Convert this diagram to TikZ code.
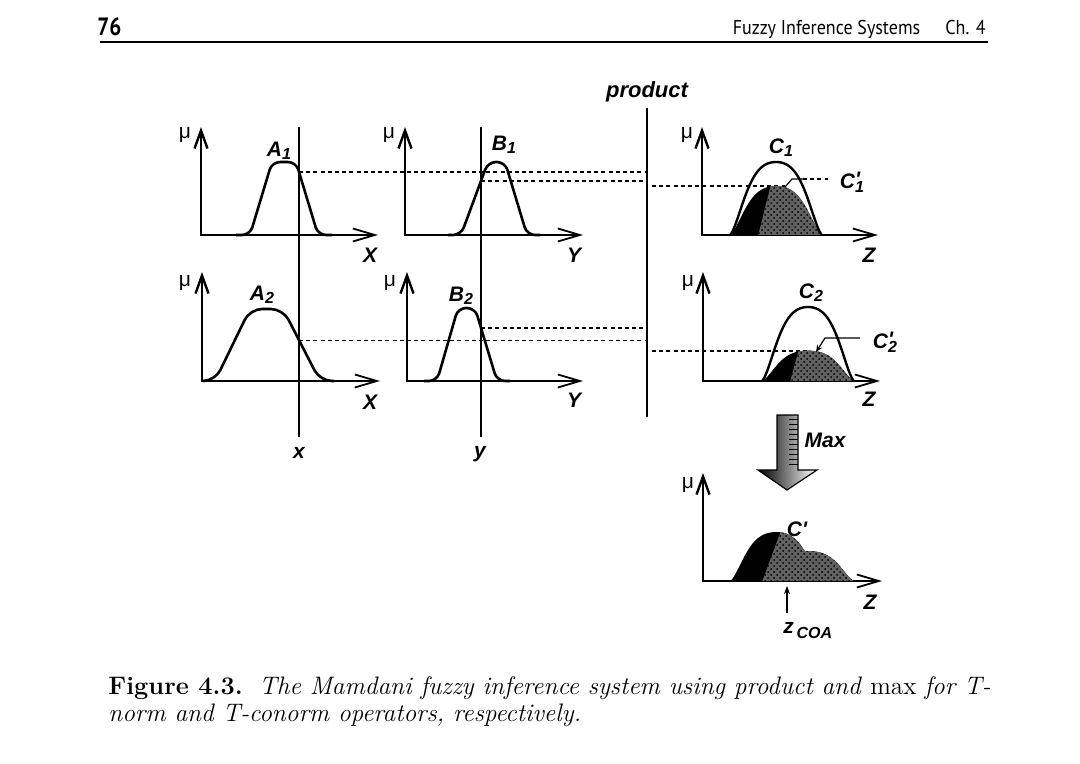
\documentclass[tikz,border=0pt]{standalone}
\usepackage{fontspec}
\newfontfamily\lab{Liberation Sans}
\newfontfamily\hdr{PT Sans}
\usetikzlibrary{arrows.meta,patterns,intersections,calc}
\tikzset{
  ax/.style={line width=1.2pt, line join=miter,
    {Straight Barb[length=9pt,width=6.5pt,line width=1.2pt]}-{Straight Barb[length=11pt,width=6.5pt,line width=0.9pt]}},
  mf/.style={line width=1.3pt, rounded corners=4pt, line join=round},
  mfw/.style={line width=1.3pt, rounded corners=6pt, line join=round},
  cv/.style={line width=1.2pt, line join=round},
  vline/.style={line width=0.7pt},
  dsh/.style={line width=0.6pt, dash pattern=on 2pt off 1.6pt},
  lbl/.style={font=\lab\bfseries\itshape\fontsize{10.5}{12}\selectfont, inner sep=0pt},
  mulbl/.style={font=\lab\fontsize{10.5}{12}\selectfont, inner sep=0pt},
  speckbase/.style={fill=black!62},
  speck/.style={pattern=crosshatch dots, pattern color=black},
}
\newcommand{\sub}[1]{{\fontsize{8}{8}\selectfont\raisebox{-1.5pt}{#1}}}
\newcommand{\cpr}[1]{C\rlap{\raisebox{1pt}{'}}{\fontsize{8}{8}\selectfont\raisebox{-2pt}{#1}}}
\begin{document}
\begin{tikzpicture}[x=0.5pt,y=-0.5pt,
  declare function={vv(\t)=max(1-(\t/46)*(\t/46),0.0001);
    cn(\t)=0.5*(3*vv(\t)*vv(\t)-2*vv(\t)*vv(\t)*vv(\t))+0.5*pow(vv(\t),1.2);}]
\useasboundingbox (0,0) rectangle (1080,764);

% header
\node[anchor=base west, inner sep=0pt, font=\hdr\bfseries\fontsize{12.5}{13}\selectfont] (pg) at (97,36) {\scalebox{0.85}[1]{76}};
\node[anchor=base east, inner sep=0pt, font=\hdr\fontsize{10}{12}\selectfont] (hd) at (986,35) {\scalebox{0.9}[1]{Fuzzy Inference Systems\hspace{14pt}Ch. 4}};
\coordinate (r1) at (100,42); \coordinate (r2) at (988,42);
\draw[line width=1pt] (r1) -- (r2);

% reference lines
\coordinate (xt) at (299,127); \coordinate (xb) at (299,437);
\coordinate (yt) at (481,127); \coordinate (yb) at (481,437);
\coordinate (pt) at (647,108); \coordinate (pb) at (647,417);
\draw[vline, name path=xline] (xt) -- (xb);
\draw[vline, name path=yline] (yt) -- (yb);
\draw[line width=0.9pt] (pt) -- (pb);
\node[lbl] (xl) at (299,453) {x};
\node[lbl] (yl) at (480,454) {y};
\node[lbl, font=\lab\bfseries\itshape\fontsize{11}{12}\selectfont] (prod) at (647,92) {product};

% ---------- row 1 ----------
\draw[ax] (201,127) -- (201,235) -- (378,235);
\node[mulbl] (mu1) at (185,135) {μ};
\draw[mf, name path=A1] (236,235) -- (250,235) -- (272,162) -- (296,162) -- (318,235) -- (332,235);
\node[lbl] (A1) at (279,151) {A\sub{1}};
\node[lbl] (X1) at (370,255) {X};

\draw[ax] (405,127) -- (405,235) -- (583,235);
\node[mulbl] (mu2) at (389,135) {μ};
\draw[mf, name path=B1] (448,235) -- (461,235) -- (488,162) -- (505,162) -- (527,235) -- (540,235);
\node[lbl] (B1) at (504,145) {B\sub{1}};
\node[lbl] (Y1) at (574,255) {Y};

\path[name intersections={of=A1 and xline, by=ia1}];
\path[name intersections={of=B1 and yline, by=ib1}];
\draw[dsh] (ia1) -- (ia1 -| pt);
\draw[dsh] (ib1) -- (ib1 -| pt);

\draw[ax] (702,127) -- (702,235) -- (878,235);
\node[mulbl] (mu3) at (687,135) {μ};
\coordinate (c1a) at (652,186); \coordinate (c1b) at (785,186);
\draw[dsh] (c1a) -- (c1b);
\fill[black] plot[domain=-46:46, samples=90] ({776+\x},{235-0.67*73*cn(\x)}) -- cycle;
\begin{scope}
  \clip plot[domain=-46:46, samples=90] ({776+\x},{235-0.67*73*cn(\x)}) -- cycle;
  \fill[speckbase] (758,236) -- (772,180) -- (830,180) -- (830,236) -- cycle;
  \fill[speck] (758,236) -- (772,180) -- (830,180) -- (830,236) -- cycle;
\end{scope}
\draw[cv] plot[domain=-46:46, samples=90] ({776+\x},{235-73*cn(\x)});
\node[lbl] (C1) at (781,148) {C\sub{1}};
\node[lbl] (C1p) at (852,182) {\cpr{1}};
\coordinate (l1a) at (785,187); \coordinate (l1b) at (792,179); \coordinate (l1c) at (803,179); \coordinate (l1d) at (828,179);
\draw[line width=0.6pt] (l1a) -- (l1b) -- (l1c);
\draw[dsh] (l1c) -- (l1d);
\node[lbl] (Z1) at (869,255) {Z};

% ---------- row 2 ----------
\draw[ax] (202,272) -- (202,381) -- (380,381);
\node[mulbl] (mu4) at (185,283) {μ};
\draw[mfw, name path=A2] (203,381) -- (215,381) -- (250,309) -- (283,309) -- (320,381) -- (334,381);
\node[lbl] (A2) at (262,295) {A\sub{2}};
\node[lbl] (X2) at (370,402) {X};

\draw[ax] (407,272) -- (407,381) -- (583,381);
\node[mulbl] (mu5) at (390,283) {μ};
\draw[mf, name path=B2] (424,381) -- (437,381) -- (458,308) -- (475,308) -- (497,381) -- (510,381);
\node[lbl] (B2) at (461,296) {B\sub{2}};
\node[lbl] (Y2) at (574,400) {Y};

\path[name intersections={of=A2 and xline, by=ia2}];
\path[name intersections={of=B2 and yline, by=ib2}];
\draw[dsh] (ia2) -- (ia2 -| pt);
\draw[dsh] (ib2) -- (ib2 -| pt);

\draw[ax] (703,272) -- (703,381) -- (880,381);
\node[mulbl] (mu6) at (688,283) {μ};
\coordinate (c2a) at (652,351); \coordinate (c2b) at (808,351);
\draw[dsh] (c2a) -- (c2b);
\fill[black] plot[domain=-46:46, samples=90] ({808+\x},{381-0.41*74*cn(\x)}) -- cycle;
\begin{scope}
  \clip plot[domain=-46:46, samples=90] ({808+\x},{381-0.41*74*cn(\x)}) -- cycle;
  \fill[speckbase] (790,382) -- (800,345) -- (860,345) -- (860,382) -- cycle;
  \fill[speck] (790,382) -- (800,345) -- (860,345) -- (860,382) -- cycle;
\end{scope}
\draw[cv] plot[domain=-46:46, samples=90] ({808+\x},{381-74*cn(\x)});
\node[lbl] (C2) at (811,293) {C\sub{2}};
\node[lbl] (C2p) at (885,342) {\cpr{2}};
\coordinate (l2a) at (816,352); \coordinate (l2b) at (825,338); \coordinate (l2c) at (860,338);
\draw[line width=0.6pt, {Stealth[length=3.5pt,width=3pt]}-] (l2a) -- (l2b) -- (l2c);
\node[lbl] (Z2) at (869,399) {Z};

% ---------- Max arrow ----------
\shade[left color=black, right color=white, draw=black, line width=0.6pt]
  (777,415) -- (798,415) -- (798,470) -- (817,470) -- (787,490) -- (758,470) -- (777,470) -- cycle;
\foreach \yy in {419,424,...,467} \draw[line width=0.3pt] (789,\yy) -- (798,\yy);
\node[lbl] (max) at (825,440) {Max};

% ---------- aggregated ----------
\draw[ax] (703,473) -- (703,581) -- (882,581);
\node[mulbl] (mu7) at (688,485) {μ};
\fill[black] plot[domain=730:854, samples=130] (\x,{581-73*max(0.67*cn(\x-776),0.41*cn(\x-808))}) -- cycle;
\begin{scope}
  \clip plot[domain=730:854, samples=130] (\x,{581-73*max(0.67*cn(\x-776),0.41*cn(\x-808))}) -- cycle;
  \fill[speckbase] (762,582) -- (782,528) -- (860,528) -- (860,582) -- cycle;
  \fill[speck] (762,582) -- (782,528) -- (860,528) -- (860,582) -- cycle;
\end{scope}
\node[lbl] (Cp) at (797,529) {C'};
\node[lbl] (Z3) at (870,602) {Z};
\node[lbl, anchor=base west] (zcoa) at (783,633) {z{\fontsize{8}{8}\selectfont\raisebox{-2.5pt}{\,COA}}};
\coordinate (coat) at (787,586); \coordinate (coab) at (787,613);
\draw[line width=0.6pt, -{Stealth[length=4pt,width=3pt]}] (coab) -- (coat);

% ---------- caption ----------
\node[anchor=base west, inner sep=0pt, font=\fontsize{12.65}{14}\selectfont] (cap1) at (108,694)
  {\textbf{Figure 4.3.}\ \ \textit{The Mamdani fuzzy inference system using product and} max \textit{for T-}};
\node[anchor=base west, inner sep=0pt, font=\fontsize{12.65}{14}\selectfont] (cap2) at (108,721)
  {\textit{norm and T-conorm operators, respectively.}};
\end{tikzpicture}
\end{document}
